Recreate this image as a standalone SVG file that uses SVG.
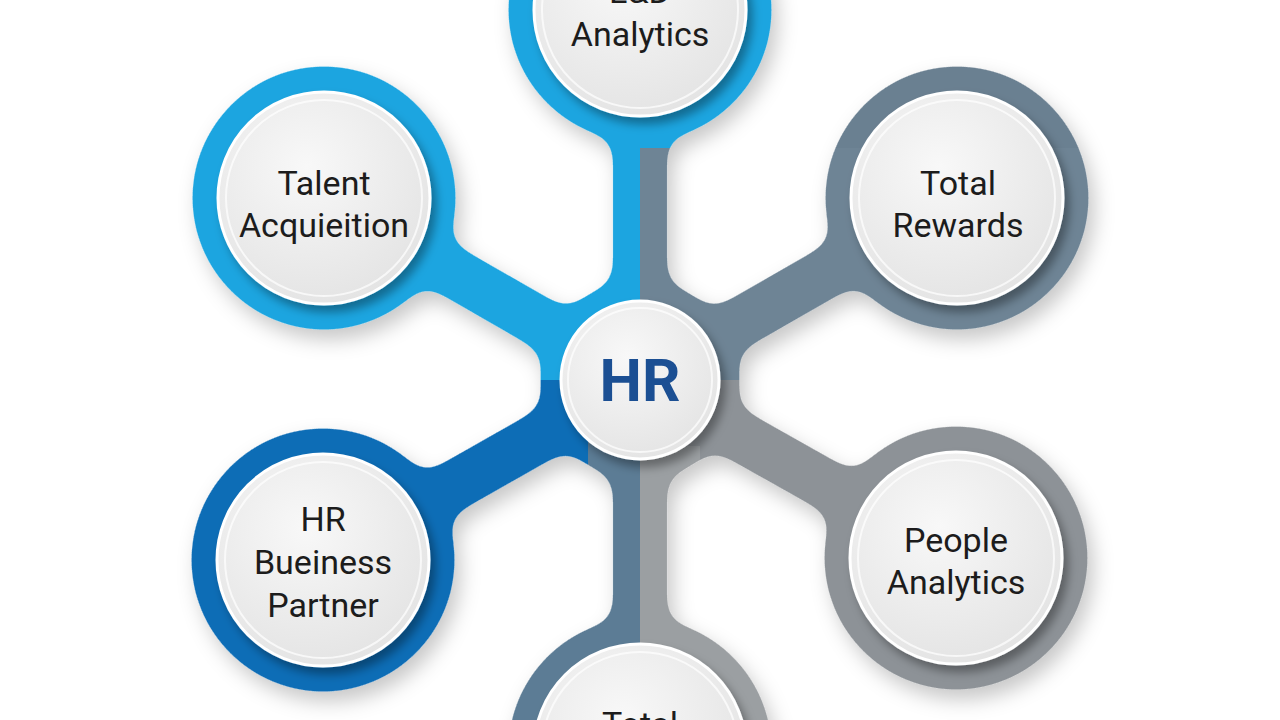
<svg xmlns="http://www.w3.org/2000/svg" width="1280" height="720" viewBox="0 0 1280 720">
<defs>
<style>
.lbl{font-family:Roboto,"Liberation Sans",Arial,sans-serif;font-size:34px;fill:#1c1c1c;text-anchor:middle}
.hub{font-family:Roboto,"Liberation Sans",Arial,sans-serif;font-size:60px;font-weight:bold;fill:#1b4f93;text-anchor:middle}
.disc{fill:url(#discG);stroke:#ffffff;stroke-width:3;filter:url(#discSh)}
.rim{fill:none;stroke:#ffffff;stroke-opacity:0.7;stroke-width:2}
.arm{stroke:#fff;stroke-width:50;fill:none}
</style>
<radialGradient id="discG" cx="0.42" cy="0.35" r="0.7">
<stop offset="0" stop-color="#f8f8f8"/>
<stop offset="1" stop-color="#e3e3e3"/>
</radialGradient>
<filter id="goo" filterUnits="userSpaceOnUse" x="-200" y="-300" width="1680" height="1320">
<feGaussianBlur in="SourceGraphic" stdDeviation="12" result="b"/>
<feColorMatrix in="b" type="matrix" values="1 0 0 0 0 0 1 0 0 0 0 0 1 0 0 0 0 0 25 -12"/>
</filter>
<filter id="discSh" x="-30%" y="-30%" width="170%" height="170%">
<feDropShadow dx="5" dy="7" stdDeviation="5" flood-color="#000" flood-opacity="0.35"/>
</filter>
<filter id="blobSh" filterUnits="userSpaceOnUse" x="-200" y="-300" width="1680" height="1320">
<feDropShadow dx="6" dy="10" stdDeviation="10" flood-color="#000" flood-opacity="0.22"/>
</filter>
<mask id="blobMask" maskUnits="userSpaceOnUse" x="-200" y="-300" width="1680" height="1320">
<g filter="url(#goo)" fill="#fff">
<circle cx="640" cy="10" r="132"/>
<circle cx="324" cy="198" r="132"/>
<circle cx="957" cy="198" r="132"/>
<circle cx="323" cy="560" r="132"/>
<circle cx="956" cy="558" r="132"/>
<circle cx="640" cy="750" r="132"/>
<circle cx="640" cy="380" r="100"/>
<line class="arm" x1="640" y1="380" x2="324" y2="198"/>
<line class="arm" x1="640" y1="380" x2="957" y2="198"/>
<line class="arm" x1="640" y1="380" x2="323" y2="560"/>
<line class="arm" x1="640" y1="380" x2="956" y2="558"/>
<rect x="613" y="10" width="54" height="740"/>
</g>
</mask>
</defs>
<rect width="1280" height="720" fill="#ffffff"/>
<g id="connectors" filter="url(#blobSh)">
<g mask="url(#blobMask)">
<path d="M-200,-300 H800 V148 H640 V380 H-200 Z" fill="#1ba5e0"/>
<path d="M800,-300 H1480 V148 H800 Z" fill="#6b8091"/>
<path d="M640,148 H1480 V380 H640 Z" fill="#6e8495"/>
<path d="M-200,380 H640 V1000 H-200 Z" fill="#0f6db6"/>
<path d="M640,380 H1480 V1000 H640 Z" fill="#8d9297"/>
<path d="M588,440 H640 V1000 H480 V600 H588 Z" fill="#5c7c95"/>
<path d="M640,446 H700 V600 H800 V1000 H640 Z" fill="#9b9fa2"/>
</g>
</g>
<g id="node-hr">
<circle class="disc" cx="640" cy="380" r="79"/>
<circle class="rim" cx="640" cy="380" r="72"/>
<text class="hub" x="640" y="401">HR</text>
</g>
<g id="node-ld">
<circle class="disc" cx="640" cy="10" r="106"/>
<circle class="rim" cx="640" cy="10" r="98"/>
<text class="lbl" x="640" y="3">L&amp;D</text>
<text class="lbl" x="640" y="46">Analytics</text>
</g>
<g id="node-ta">
<circle class="disc" cx="324" cy="198" r="106"/>
<circle class="rim" cx="324" cy="198" r="98"/>
<text class="lbl" x="324" y="195">Talent</text>
<text class="lbl" x="324" y="237">Acquieition</text>
</g>
<g id="node-tr">
<circle class="disc" cx="957" cy="198" r="106"/>
<circle class="rim" cx="957" cy="198" r="98"/>
<text class="lbl" x="958" y="195">Total</text>
<text class="lbl" x="958" y="237">Rewards</text>
</g>
<g id="node-hrbp">
<circle class="disc" cx="323" cy="560" r="106"/>
<circle class="rim" cx="323" cy="560" r="98"/>
<text class="lbl" x="323" y="531">HR</text>
<text class="lbl" x="323" y="574">Bueiness</text>
<text class="lbl" x="323" y="617">Partner</text>
</g>
<g id="node-pa">
<circle class="disc" cx="956" cy="558" r="106"/>
<circle class="rim" cx="956" cy="558" r="98"/>
<text class="lbl" x="956" y="552">People</text>
<text class="lbl" x="956" y="594">Analytics</text>
</g>
<g id="node-bottom">
<circle class="disc" cx="640" cy="750" r="106"/>
<circle class="rim" cx="640" cy="750" r="98"/>
<text class="lbl" x="640" y="736">Total</text>
</g>
</svg>
